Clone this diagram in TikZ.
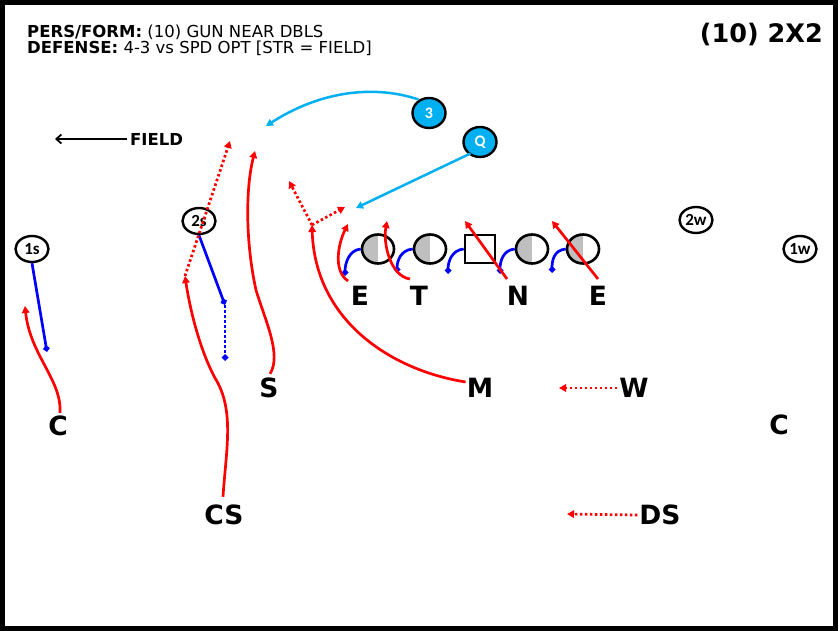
\documentclass[tikz,border=0pt]{standalone}
\usepackage{fontspec}
\setmainfont{DejaVu Sans}
\newfontfamily\calfont{Carlito}
\usetikzlibrary{arrows.meta,shapes.geometric}
\definecolor{qcyan}{HTML}{00B0F0}
\definecolor{olgray}{HTML}{BFBFBF}
\definecolor{rred}{HTML}{FF0000}
\definecolor{bblue}{HTML}{0000FF}
\begin{document}
\begin{tikzpicture}[x=1pt,y=-1pt,
  defl/.style={font=\bfseries\fontsize{26.5}{26.5}\selectfont, inner sep=0pt},
  recv/.style={draw, ellipse, line width=2.4pt, minimum width=33pt, minimum height=26pt, inner sep=0pt, font=\calfont\bfseries\fontsize{17}{17}\selectfont},
  bkf/.style={draw, ellipse, line width=2.4pt, fill=qcyan, minimum width=33pt, minimum height=30pt, inner sep=0pt, text=white, font=\calfont\bfseries\fontsize{16}{16}\selectfont},
  oline/.style={draw, ellipse, line width=2.6pt, minimum width=32pt, minimum height=29pt, inner sep=0pt,
     path picture={\fill[olgray] (path picture bounding box.south west) rectangle (path picture bounding box.north);}},
  ctr/.style={draw, rectangle, line width=2.6pt, minimum width=30pt, minimum height=28pt, inner sep=0pt},
  rte/.style={rred, line width=2.7pt, -{Triangle[length=7pt,width=7.5pt]}},
  rdot/.style={rred, line width=2.7pt, dash pattern=on 2.5pt off 2.5pt, -{Triangle[length=7pt,width=7.5pt]}},
  blk/.style={bblue, line width=2.7pt, -{Diamond[length=7pt,width=7pt]}},
  bdot/.style={bblue, line width=2.7pt, dash pattern=on 2.5pt off 2.5pt, -{Diamond[length=7pt,width=7pt]}},
  qrt/.style={qcyan, line width=2.5pt, -{Triangle[length=7pt,width=7.5pt]}},
  hdr/.style={anchor=base west, inner sep=0pt, font=\fontsize{16.5}{16.5}\selectfont}
]
\useasboundingbox (0,0) rectangle (840,631);
\draw[line width=5pt] (2.5,2.5) rectangle (835.5,628.5);

% header
\node[hdr] (h1) at (27,37.5) {\textbf{PERS/FORM:} (10) GUN NEAR DBLS};
\node[hdr] (h2) at (27,54) {\textbf{DEFENSE:} 4-3 vs SPD OPT [STR = FIELD]};
\node[anchor=east, inner sep=0pt, font=\bfseries\fontsize{25.5}{25.5}\selectfont] (title) at (823,35) {(10) 2X2};

% field arrow
\node[anchor=west, inner sep=0pt, font=\bfseries\fontsize{16.5}{16.5}\selectfont] (field) at (130,139) {FIELD};
\coordinate (fieldtip) at (55,139);
\draw[line width=1.8pt, -{Straight Barb[length=5pt,width=9pt]}] (field.west) ++(-3,0) -- (fieldtip);

% offensive line
\node[oline] (O1) at (378,249) {};
\node[oline] (O2) at (430,249) {};
\node[ctr] (OC) at (480,249) {};
\node[oline] (O4) at (532,249) {};
\node[oline] (O5) at (583,249) {};

% receivers
\node[recv] (r1s) at (32,249) {1s};
\node[recv] (r2s) at (199,221) {2s};
\node[recv] (r2w) at (696,220) {2w};
\node[recv] (r1w) at (800,249) {1w};

% backs
\node[bkf] (b3) at (429,113) {3};
\node[bkf] (bQ) at (480,142) {Q};

% defense
\node[defl] (E1) at (360,296) {E};
\node[defl] (T) at (419,296) {T};
\node[defl] (N) at (518,296) {N};
\node[defl] (E2) at (598,296) {E};
\node[defl] (S) at (269,388) {S};
\node[defl] (M) at (480,388) {M};
\node[defl] (W) at (634,388) {W};
\node[defl] (C1) at (58,426) {C};
\node[defl] (C2) at (779,425) {C};
\node[defl] (CS) at (224,515) {CS};
\node[defl] (DS) at (660,515) {DS};

% coordinates
\coordinate (k1) at (345,276);
\coordinate (k2) at (397,273);
\coordinate (k3) at (448,274);
\coordinate (k4) at (500,274);
\coordinate (k5) at (552,273);
\coordinate (tE1) at (348,224);
\coordinate (tT) at (387,221);
\coordinate (tN) at (465,221);
\coordinate (tE2) at (552,221);
\coordinate (mj) at (312,225);
\coordinate (mL) at (289,181);
\coordinate (mR) at (345,207);
\coordinate (tS) at (255,151);
\coordinate (csj) at (185,276);
\coordinate (csT) at (230,141);
\coordinate (tC1) at (25,306);
\coordinate (w1) at (47,352);
\coordinate (w2a) at (225,305);
\coordinate (w2b) at (225,361);
\coordinate (tW) at (559,388);
\coordinate (tDS) at (567,514);
\coordinate (t3) at (266,126);
\coordinate (tQ) at (356,208);

% blocks
\draw[blk] (O1.west) .. controls +(-12,1) and +(0,-12) .. (k1);
\draw[blk] (O2.west) .. controls +(-12,1) and +(0,-12) .. (k2);
\draw[blk] (OC.west) .. controls +(-12,1) and +(0,-12) .. (k3);
\draw[blk] (O4.west) .. controls +(-12,1) and +(0,-12) .. (k4);
\draw[blk] (O5.west) .. controls +(-12,1) and +(0,-12) .. (k5);

% receivers
\draw[blk] (r1s.south) -- (w1);
\draw[blk] (r2s.south) -- (w2a);
\draw[bdot] (w2a) -- (w2b);

% defensive routes
\draw[rte] (348,281) .. controls +(-15,-10) and +(-10,20) .. (tE1);
\draw[rte] (410,279) .. controls +(-20,-3) and +(-4,22) .. (tT);
\draw[rte] (507,279) -- (tN);
\draw[rte] (598,279) -- (tE2);
\draw[rte] (M.west) ++(-1,-6) .. controls (390,370) and (315,320) .. (mj);
\draw[rdot] (mj) -- (mL);
\draw[rdot] (mj) -- (mR);
\draw[rte] (S.north) ++(1,-4) .. controls (282,355) and (265,320) .. (256,290) .. controls (246,245) and (245,190) .. (tS);
\draw[rte] (CS.north) ++(-1,-8) .. controls (226,450) and (235,410) .. (215,378) .. controls (200,350) and (190,310) .. (csj);
\draw[rdot] (csj) -- (csT);
\draw[rte] (C1.north) ++(2,-3) .. controls (62,380) and (30,355) .. (tC1);
\draw[rdot] (W.west) ++(-2,0) -- (tW);
\draw[rdot] (DS.west) ++(-2,0) -- (tDS);

% backfield routes
\draw[qrt] (b3.north west) ++(2,-2) .. controls (385,88) and (330,85) .. (t3);
\draw[qrt] (bQ.south west) ++(3,0) -- (tQ);
\end{tikzpicture}
\end{document}
